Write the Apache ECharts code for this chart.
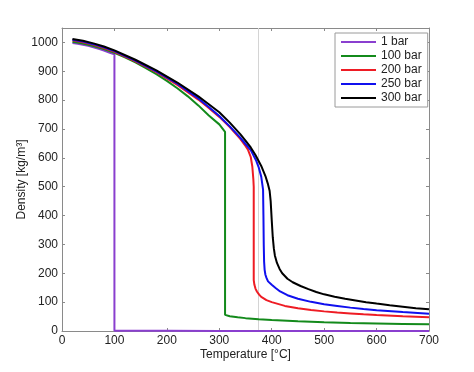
<!DOCTYPE html>
<html>
<head>
<meta charset="utf-8">
<script src="https://cdn.jsdelivr.net/npm/echarts@6/dist/echarts.min.js"></script>
<style>html,body{margin:0;padding:0;background:#fff;}#c{width:474px;height:372px;}</style>
</head>
<body>
<div id="c"></div>
<script>
var seriesNames = ['1 bar', '100 bar', '200 bar', '250 bar', '300 bar'];
var xTicks = [0, 100, 200, 300, 400, 500, 600, 700];
var yTicks = [0, 100, 200, 300, 400, 500, 600, 700, 800, 900, 1000];
var criticalT = 373.95;

var bar1 = [[20,998.2],[30,995.7],[40,992.2],[50,988],[60,983.2],[70,977.8],[80,971.8],[90,965.3],[100,958.4],
  [100,0.6],[200,0.46],[300,0.38],[400,0.32],[500,0.28],[600,0.25],[700,0.22]];
var bar100 = [[20,1002.7],[40,996.6],[60,987.8],[80,976.8],[100,963.7],[120,948.2],[140,931],[160,911.3],[180,890],
  [200,866.8],[220,841.2],[240,813.2],[260,781.8],[280,747],[300,716],[311,690],
  [311,56],[320,51],[335,47.5],[350,44.6],[375,40.5],[400,37.9],[450,33.6],[500,30.5],[550,28.1],[600,26.1],[650,24.4],[700,23]];
var bar200 = [[20,1007.3],[40,1000.8],[60,992],[80,980.5],[100,967.4],[140,934.5],[180,896.9],[220,852.6],[260,802],
  [280,773],[300,742],[320,707],[340,666],[350,641],[355,627],[360,603],[363,570],[365,525],[365.7,500],
  [365.7,176],[367,160],[369,147],[372,136],[376,126],[380,118],[390,107],[400,100],[425,87],[450,79],[475,73],
  [500,68],[525,64],[550,61],[575,58],[600,55.5],[650,51],[700,48]];
var bar250 = [[20,1009.4],[40,1003],[60,994],[80,982.8],[100,970],[140,937],[180,900],[220,857],[260,806],[280,776],
  [300,745],[320,709],[340,670],[350,648],[360,627],[370,592],[375,568],[380,535],[383.5,490],[384.2,400],[384.8,300],
  [385.5,240],[386.5,212],[388,195],[390,184],[393,172],[400,160],[408,148],[416,137],[430,124],[450,112],[475,101],
  [500,93],[525,87],[550,81],[575,76],[600,72],[650,65.5],[700,60]];
var bar300 = [[20,1011.7],[40,1005.5],[60,996.8],[80,985.7],[100,972.4],[140,940],[180,903],[220,861],[260,813],
  [280,786],[300,758],[320,722],[340,682],[350,660],[360,636],[369,610],[380,572],[388,537],[393,508],[396,486],
  [398,450],[400,385],[402,325],[404,287],[406,262],[410,236],[415,215],[420,200],[430,181],[440,169],[455,156],
  [470,145],[485,135],[500,127],[520,119],[540,112],[560,106],[580,100],[600,95],[625,89],[650,84],[675,79],[700,75]];

var colors = ['#8a3fcf', '#138a1b', '#ee1c24', '#1010ee', '#000000'];
var dataSets = [bar1, bar100, bar200, bar250, bar300];

var chart = echarts.init(document.getElementById('c'));
var font = 'Liberation Sans, Arial, sans-serif';
var axisColor = '#8a8a8a';
var labelColor = '#222';

function mkX(pos, show) {
  return {
    type: 'value', position: pos, min: 0, max: 700, interval: 100,
    axisLine: {show: true, onZero: false, lineStyle: {color: axisColor, width: 1}},
    axisTick: {show: true, inside: true, length: 3, lineStyle: {color: axisColor}},
    axisLabel: {show: show, margin: 4, color: labelColor, fontFamily: font, fontSize: 12,
      formatter: function (v) { return String(v); }},
    splitLine: {show: false},
    name: show ? 'Temperature [°C]' : '', nameLocation: 'middle', nameGap: 18,
    nameMoveOverlap: false,
    nameTextStyle: {color: labelColor, fontFamily: font, fontSize: 12}
  };
}
function mkY(pos, show) {
  return {
    type: 'value', position: pos, min: 0, max: 1050, interval: 100,
    axisLine: {show: true, onZero: false, lineStyle: {color: axisColor, width: 1}},
    axisTick: {show: true, inside: true, length: 3, lineStyle: {color: axisColor},
      customValues: yTicks},
    axisLabel: {show: show, margin: 4, color: labelColor, fontFamily: font, fontSize: 12,
      customValues: yTicks, formatter: function (v) { return String(v); }},
    splitLine: {show: false},
    name: show ? 'Density [kg/m³]' : '', nameLocation: 'middle', nameGap: 34,
    nameMoveOverlap: false,
    nameTextStyle: {color: labelColor, fontFamily: font, fontSize: 12}
  };
}

var series = seriesNames.map(function (n, i) {
  var s = {
    name: n, type: 'line', data: dataSets[i], showSymbol: false, symbol: 'none',
    lineStyle: {color: colors[i], width: 2}, itemStyle: {color: colors[i]},
    z: 3 + i, animation: false, xAxisIndex: 0, yAxisIndex: 0
  };
  if (i === 0) {
    s.markLine = {
      silent: true, symbol: 'none', label: {show: false},
      lineStyle: {color: '#d4d4d4', width: 1, type: 'solid'},
      data: [{xAxis: criticalT}], z: 1
    };
  }
  return s;
});

chart.setOption({
  backgroundColor: '#fff',
  animation: false,
  grid: {left: 62, right: 45, top: 28, bottom: 41, containLabel: false},
  xAxis: [mkX('bottom', true), mkX('top', false)],
  yAxis: [mkY('left', true), mkY('right', false)],
  legend: {
    orient: 'vertical', left: 335, top: 33,
    data: seriesNames.map(function (n) { return {name: n, icon: 'rect'}; }),
    itemWidth: 35, itemHeight: 2, itemGap: 0,
    padding: [2, 6, 2, 6],
    backgroundColor: '#fff', borderColor: '#9a9a9a', borderWidth: 1, borderRadius: 0,
    textStyle: {color: labelColor, fontFamily: font, fontSize: 12, lineHeight: 14},
    itemTextGap: 4
  },
  series: series
});
</script>
</body>
</html>
